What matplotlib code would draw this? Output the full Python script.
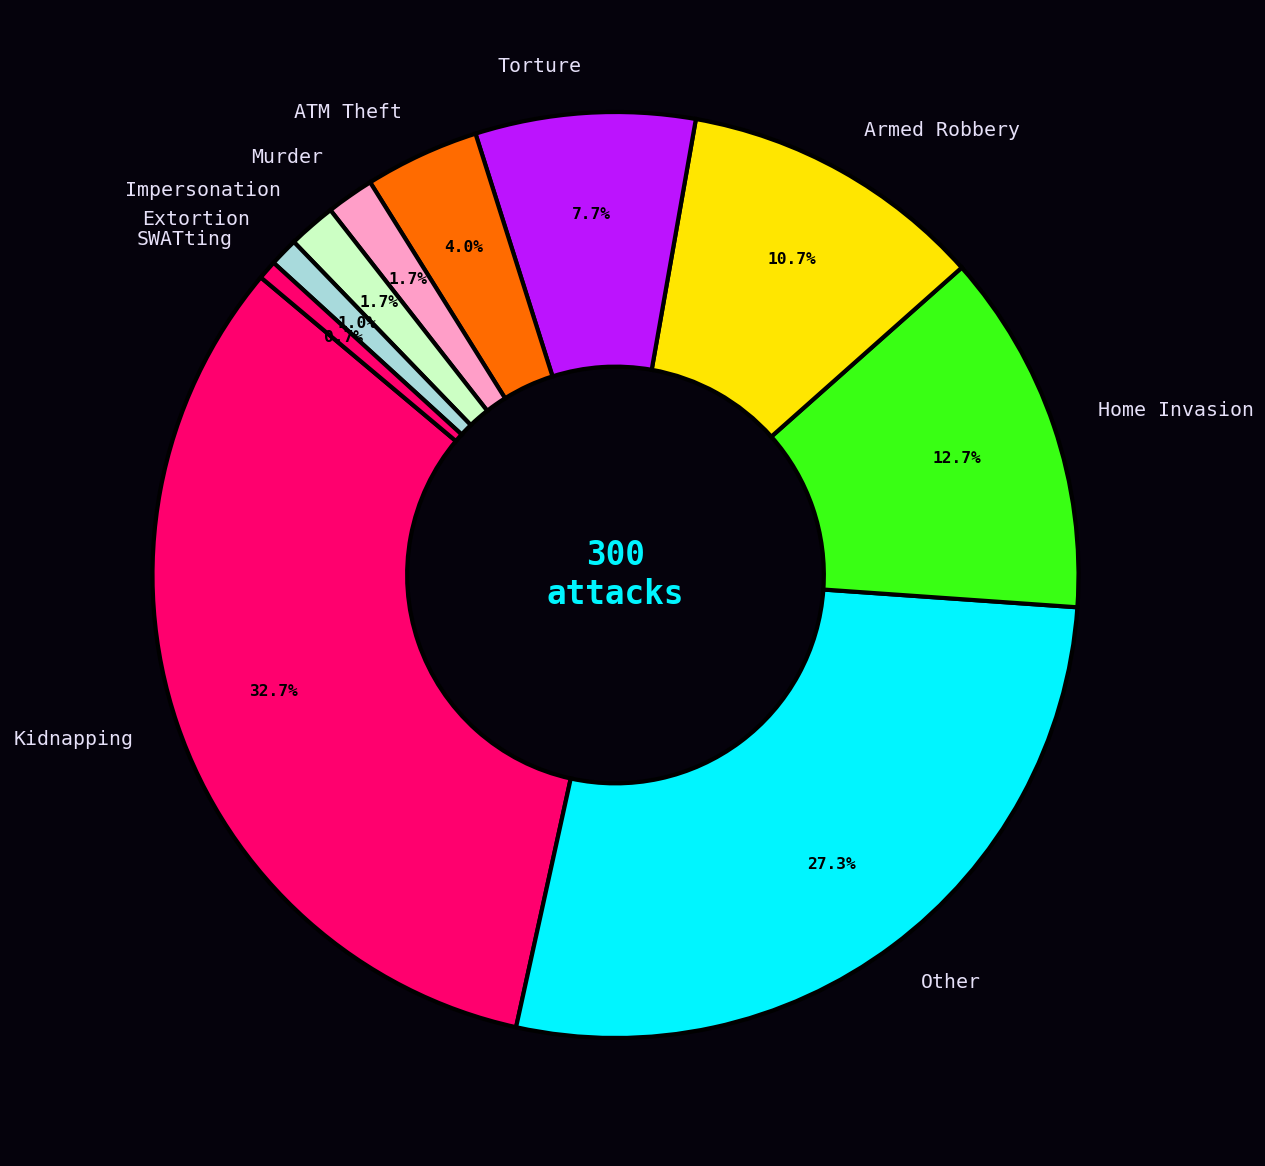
import matplotlib
matplotlib.use("Agg")
import matplotlib.pyplot as plt

categories = ["Kidnapping", "Other", "Home Invasion", "Armed Robbery", "Torture",
              "ATM Theft", "Murder", "Impersonation", "Extortion", "SWATting"]
counts = [98, 82, 38, 32, 23, 12, 5, 5, 3, 2]
colors = ["#FF006E", "#00F5FF", "#39FF14", "#FFE600", "#BC13FE",
          "#FF6B00", "#FF9EC8", "#CCFFC4", "#A8DADC", "#FF006E"]
total_label = "300\nattacks"

bg = "#05020C"
W, H = 1265, 1166
fig = plt.figure(figsize=(W / 100, H / 100), dpi=100, facecolor=bg)
R = 463.0
cx, cy = 615.5, 575.0
lim = 1.2
half = lim * R
ax = fig.add_axes([(cx - half) / W, (H - cy - half) / H, 2 * half / W, 2 * half / H])
ax.set_facecolor(bg)

wedges, texts, autotexts = ax.pie(
    counts, labels=categories, colors=colors, startangle=140, counterclock=True,
    autopct="%1.1f%%", pctdistance=0.78, labeldistance=1.1,
    wedgeprops=dict(width=0.55, edgecolor="black", linewidth=3),
    textprops=dict(family="DejaVu Sans Mono"),
)
for t in texts:
    t.set_color("#E6E0F8")
    t.set_fontsize(14.3)
for t in autotexts:
    t.set_color("black")
    t.set_fontsize(11.7)
    t.set_fontweight("bold")

ax.text(0, 0, total_label, ha="center", va="center", color="#00F5FF",
        fontsize=23.5, fontweight="bold", family="DejaVu Sans Mono", linespacing=1.25)

ax.set_xlim(-lim, lim)
ax.set_ylim(-lim, lim)
ax.set_aspect("equal")
ax.axis("off")
fig.savefig("out.png", dpi=100, facecolor=bg)
